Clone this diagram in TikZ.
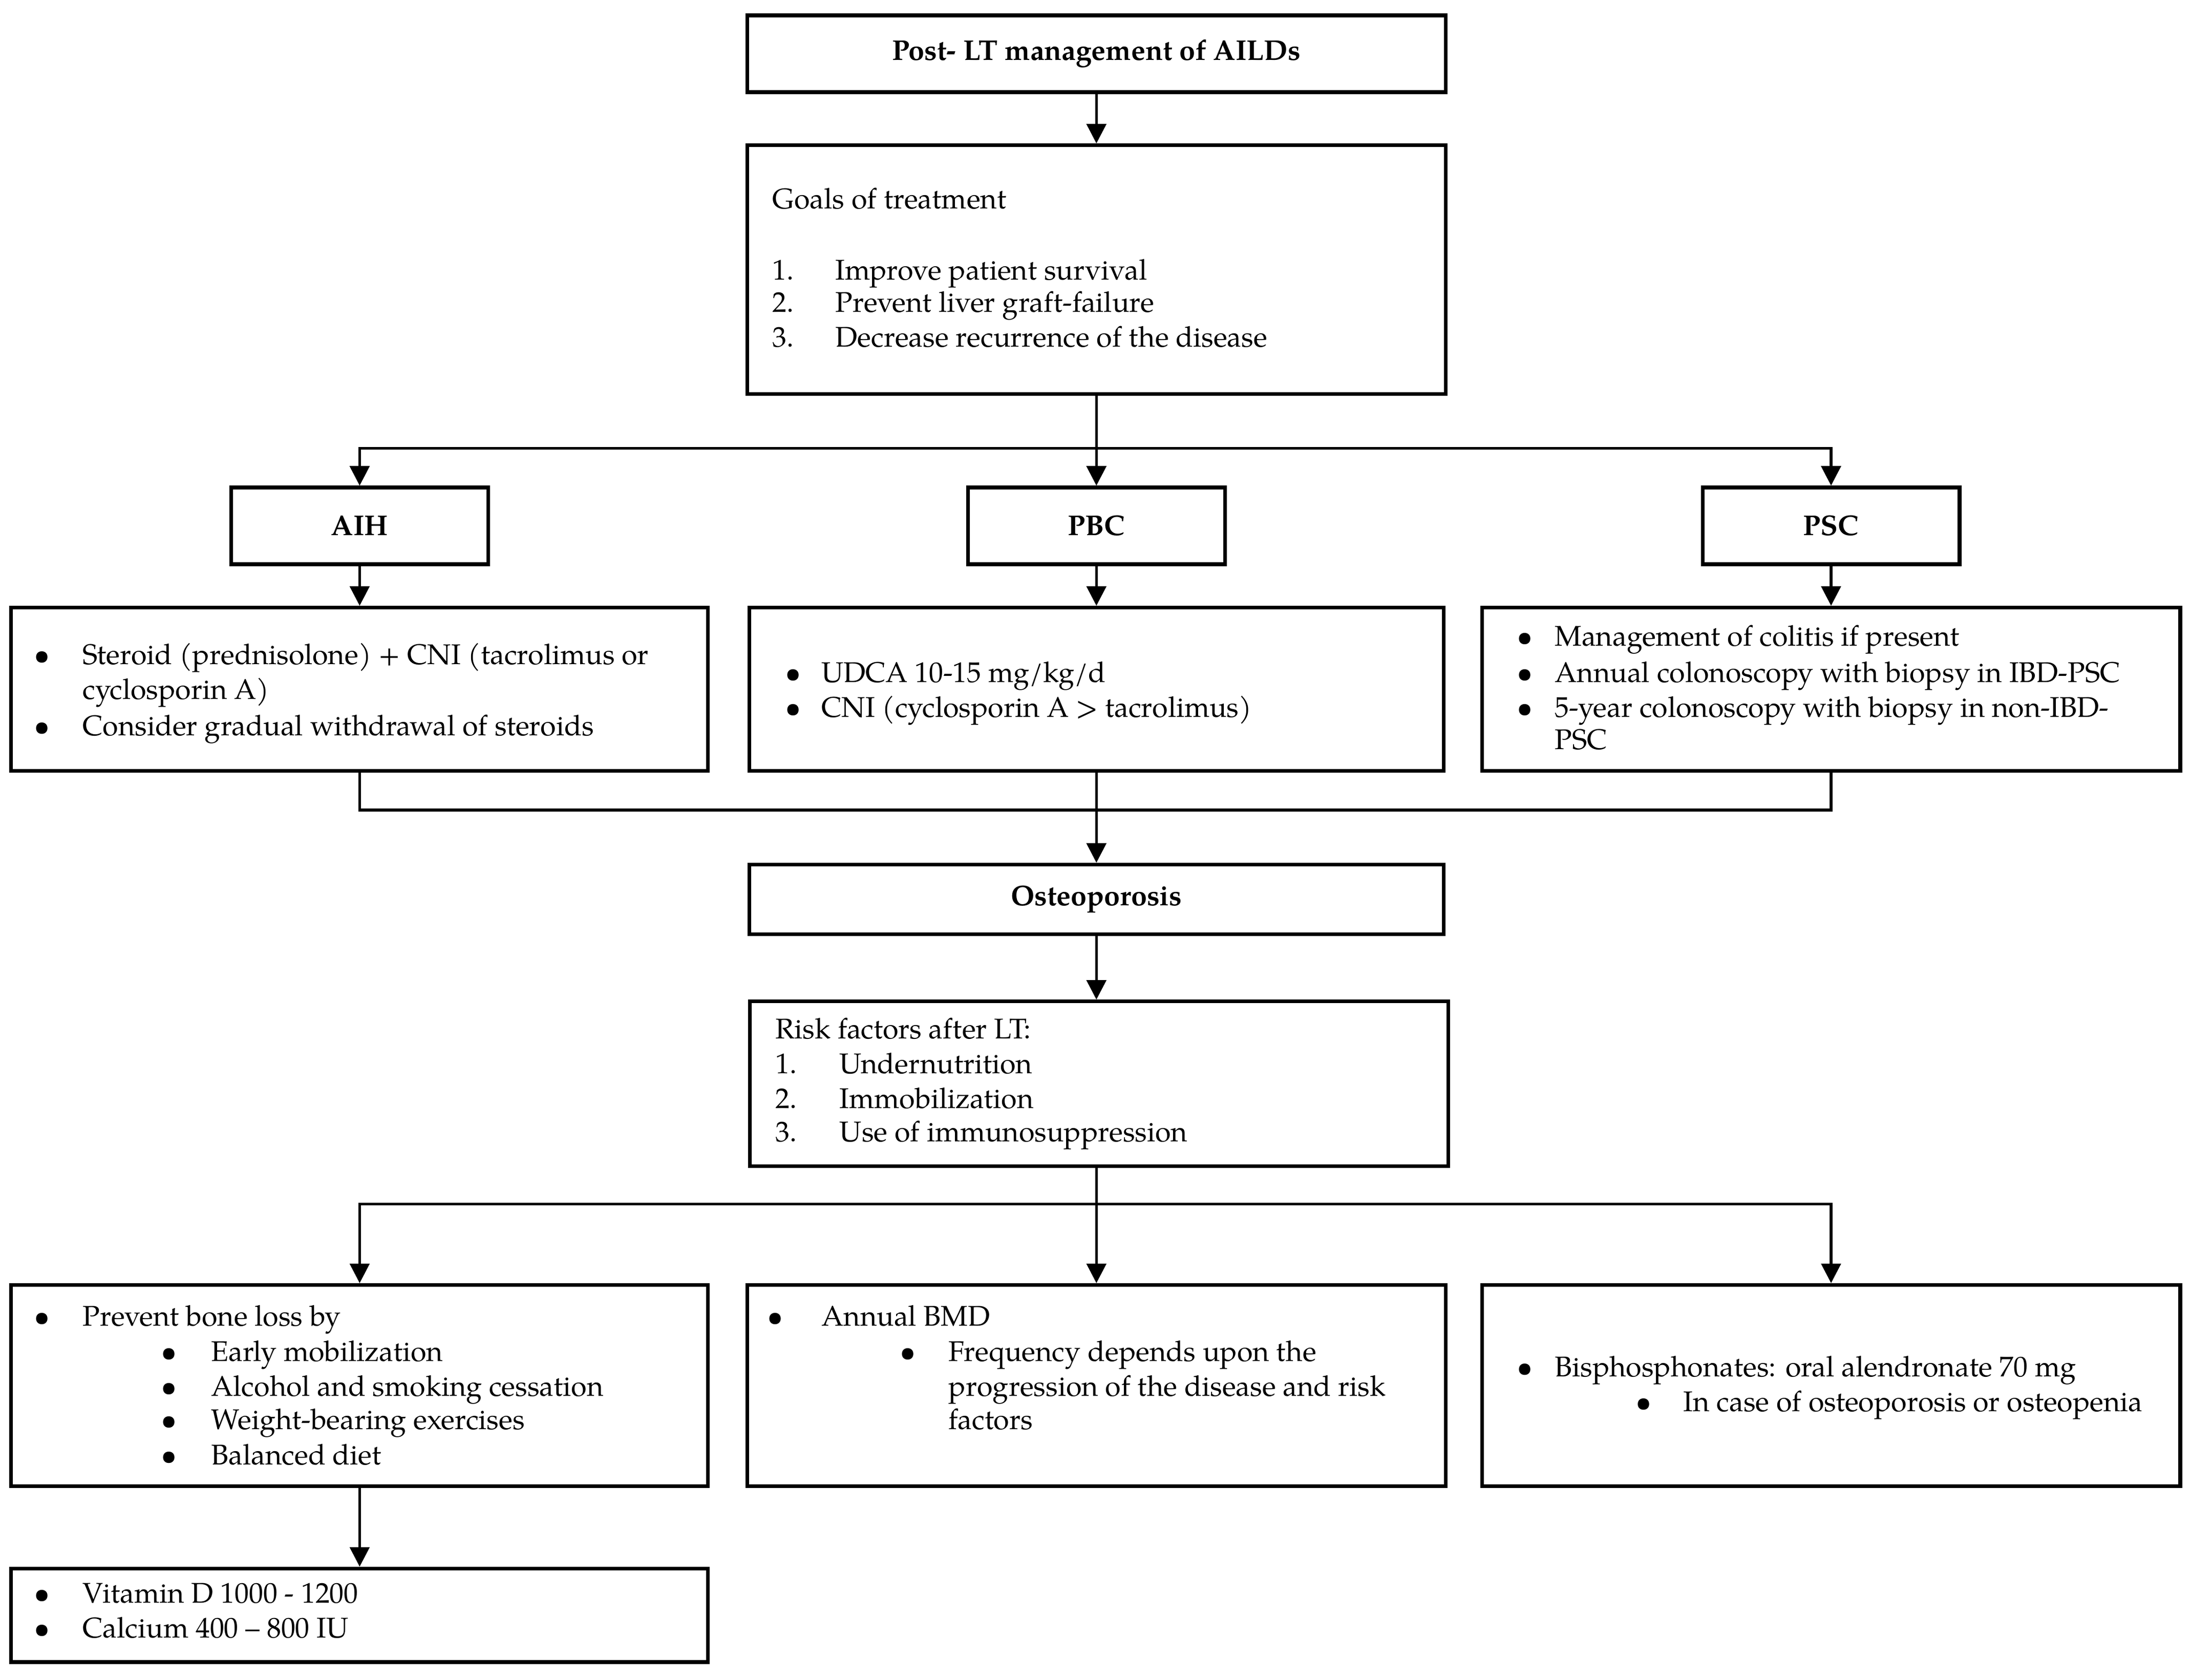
\documentclass[tikz,border=0pt]{standalone}
\usepackage{fontspec}
\setmainfont{texgyrepagella}[Extension=.otf, UprightFont=*-regular, BoldFont=*-bold, ItalicFont=*-italic, BoldItalicFont=*-bolditalic]
\usetikzlibrary{arrows.meta}
\newcommand\tline[4]{\node[txt] (#1) at (#2,#3) {#4};}
\newcommand\bul[3]{\node[txt] (#1) at (#2,#3) {\textbullet};}
\begin{document}
\begin{tikzpicture}[x=1pt,y=-1pt,
  box/.style={draw=black, line width=2.6pt, fill=white, inner sep=0pt, align=center},
  txt/.style={anchor=base west, inner sep=0pt, yshift=-7.5pt},
  conn/.style={draw=black, line width=1.9pt},
  arr/.style={conn, -{Triangle[length=14pt,width=14pt]}},
  every node/.style={font=\fontsize{20.4}{24.5}\selectfont}]
\useasboundingbox (0,0) rectangle (1568,1202.5);
\fill[white] (0,0) rectangle (1568,1202.5);
% boxes
\node[box, minimum width=500pt, minimum height=55pt, font=\fontsize{20.4}{24.5}\selectfont\bfseries] (top) at (785,38.5) {Post- LT management of AILDs};
\node[box, minimum width=500pt, minimum height=178pt] (goals) at (785,193) {};
\node[box, minimum width=184pt, minimum height=55pt, font=\fontsize{20.4}{24.5}\selectfont\bfseries] (aih) at (257.5,376.5) {AIH};
\node[box, minimum width=184pt, minimum height=55pt, font=\fontsize{20.4}{24.5}\selectfont\bfseries] (pbc) at (785,376.5) {PBC};
\node[box, minimum width=184pt, minimum height=55pt, font=\fontsize{20.4}{24.5}\selectfont\bfseries] (psc) at (1311,376.5) {PSC};
\node[box, minimum width=499pt, minimum height=117pt] (aihd) at (257.5,493.5) {};
\node[box, minimum width=497pt, minimum height=117pt] (pbcd) at (785,493.5) {};
\node[box, minimum width=500pt, minimum height=117pt] (pscd) at (1311,493.5) {};
\node[box, minimum width=497pt, minimum height=50pt, font=\fontsize{20.4}{24.5}\selectfont\bfseries] (osteo) at (785,644) {Osteoporosis};
\node[box, minimum width=500pt, minimum height=118pt] (risk) at (787,776) {};
\node[box, minimum width=499pt, minimum height=144pt] (bl) at (257.5,992) {};
\node[box, minimum width=500pt, minimum height=144pt] (bm) at (785,992) {};
\node[box, minimum width=500pt, minimum height=144pt] (br) at (1311,992) {};
\node[box, minimum width=499pt, minimum height=67pt] (vit) at (257.5,1156.5) {};
% connectors
\coordinate (s1) at (785,321);
\coordinate (j1) at (785,580);
\coordinate (s2) at (785,862);
\draw[arr] (top.south) -- (goals.north);
\draw[conn] (goals.south) -- (s1);
\draw[arr] (s1) -- (pbc.north);
\draw[arr] (s1) -| (aih.north);
\draw[arr] (s1) -| (psc.north);
\draw[arr] (aih.south) -- (aihd.north);
\draw[arr] (pbc.south) -- (pbcd.north);
\draw[arr] (psc.south) -- (pscd.north);
\draw[conn] (aihd.south) |- (j1) -| (pscd.south);
\draw[arr] (pbcd.south) -- (osteo.north);
\draw[arr] (osteo.south) -- (osteo.south |- risk.north);
\draw[conn] (s2 |- risk.south) -- (s2);
\draw[arr] (s2) -- (bm.north);
\draw[arr] (s2) -| (bl.north);
\draw[arr] (s2) -| (br.north);
\draw[arr] (bl.south) -- (vit.north);
% goals text
\tline{g0}{553}{142}{Goals of treatment}
\tline{g1n}{553}{193}{1.}
\tline{g1}{598}{193}{Improve patient survival}
\tline{g2n}{553}{216}{2.}
\tline{g2}{598}{216}{Prevent liver graft-failure}
\tline{g3n}{553}{241}{3.}
\tline{g3}{598}{241}{Decrease recurrence of the disease}
% AIH detail
\bul{a1b}{24}{468}
\tline{a1}{59}{468}{Steroid (prednisolone) + CNI (tacrolimus or}
\tline{a1c}{59}{493}{cyclosporin A)}
\bul{a2b}{24}{519}
\tline{a2}{59}{519}{Consider gradual withdrawal of steroids}
% PBC detail
\bul{p1b}{562}{481}
\tline{p1}{588}{481}{UDCA 10-15 mg/kg/d}
\bul{p2b}{562}{506}
\tline{p2}{588}{506}{CNI (cyclosporin A > tacrolimus)}
% PSC detail
\bul{c1b}{1086}{455}
\tline{c1}{1113}{455}{Management of colitis if present}
\bul{c2b}{1086}{481}
\tline{c2}{1113}{481}{Annual colonoscopy with biopsy in IBD-PSC}
\bul{c3b}{1086}{506}
\tline{c3}{1113}{506}{5-year colonoscopy with biopsy in non-IBD-}
\tline{c3c}{1113}{529}{PSC}
% risk
\tline{r0}{555}{736}{Risk factors after LT:}
\tline{r1n}{555}{761}{1.}
\tline{r1}{601}{761}{Undernutrition}
\tline{r2n}{555}{786}{2.}
\tline{r2}{601}{786}{Immobilization}
\tline{r3n}{555}{810}{3.}
\tline{r3}{601}{810}{Use of immunosuppression}
% bottom left
\bul{l0b}{24}{942}
\tline{l0}{59}{942}{Prevent bone loss by}
\bul{l1b}{115}{967}
\tline{l1}{151}{967}{Early mobilization}
\bul{l2b}{115}{992}
\tline{l2}{151}{992}{Alcohol and smoking cessation}
\bul{l3b}{115}{1016}
\tline{l3}{151}{1016}{Weight-bearing exercises}
\bul{l4b}{115}{1041}
\tline{l4}{151}{1041}{Balanced diet}
% bottom middle
\bul{m0b}{549}{942}
\tline{m0}{588}{942}{Annual BMD}
\bul{m1b}{644}{967}
\tline{m1}{679}{967}{Frequency depends upon the}
\tline{m2}{679}{992}{progression of the disease and risk}
\tline{m3}{679}{1016}{factors}
% bottom right
\bul{q0b}{1086}{978}
\tline{q0}{1113}{978}{Bisphosphonates: oral alendronate 70 mg}
\bul{q1b}{1171}{1003}
\tline{q1}{1205}{1003}{In case of osteoporosis or osteopenia}
% vitamin
\bul{v1b}{24}{1140}
\tline{v1}{59}{1140}{Vitamin D 1000 - 1200}
\bul{v2b}{24}{1165}
\tline{v2}{59}{1165}{Calcium 400 – 800 IU}
\end{tikzpicture}
\end{document}
